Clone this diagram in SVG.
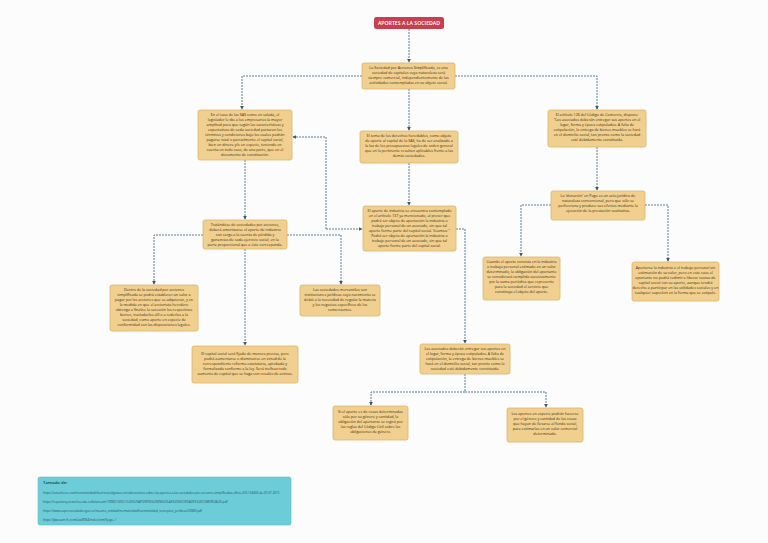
<svg xmlns="http://www.w3.org/2000/svg" width="768" height="543" viewBox="0 0 768 543">
<defs>
<marker id="ar" viewBox="0 0 6 6" refX="5" refY="3" markerWidth="4" markerHeight="4" orient="auto"><path d="M0,0 L6,3 L0,6 z" fill="#3d5a6c"/></marker>
<style>
.b{fill:#f1cf8e;stroke:#dcb56c;stroke-width:0.8}
.t{font-family:"Open Sans","DejaVu Sans",sans-serif;font-size:3.7px;fill:#3a2d10;text-anchor:middle}
.c{fill:none;stroke:#5f7f92;stroke-width:1;stroke-dasharray:2,1;marker-end:url(#ar)}
.u{font-family:"Open Sans","DejaVu Sans",sans-serif;font-size:3px;fill:#1f4d66}
</style>
</defs>
<rect width="768" height="543" fill="#fcfcfc"/>
<g id="connectors">
<path class="c" d="M409,29 V62"/>
<path class="c" d="M362,76 H242 V109"/>
<path class="c" d="M455,76 H597 V109"/>
<path class="c" d="M409,89 V130"/>
<path class="c" d="M409,163 V205"/>
<path class="c" d="M245,160 V219"/>
<path class="c" d="M203,235 H154 V284"/>
<path class="c" d="M287,235 H341 V284"/>
<path class="c" d="M245,249 V345"/>
<path class="c" d="M326,229 V137 H293"/>
<path class="c" d="M326,229 H362"/>
<path class="c" d="M456,229 H465 V343"/>
<path class="c" d="M465,374 V392 H371 V405"/>
<path class="c" d="M465,392 H546 V407"/>
<path class="c" d="M597,147 V190"/>
<path class="c" d="M551,205 H521 V256"/>
<path class="c" d="M645,205 H668 V261"/>
</g>
<g id="title"><rect x="374" y="17" width="70" height="12" rx="2.5" fill="#c8404f"/><text x="409" y="25" style="font-family:'Open Sans',sans-serif;font-size:5.2px;fill:#fff;text-anchor:middle;font-weight:600">APORTES A LA SOCIEDAD</text></g>
<g id="root"><rect class="b" x="362" y="63" width="93" height="26" rx="2"/><text class="t"><tspan x="408.5" y="69">La Sociedad por Acciones Simplificada, es una</tspan><tspan x="408.5" y="74">sociedad de capitales cuya naturaleza será</tspan><tspan x="408.5" y="79">siempre comercial, independientemente de las</tspan><tspan x="408.5" y="84">actividades contempladas en su objeto social.</tspan></text></g>
<g id="nA"><rect class="b" x="198" y="110" width="94" height="50" rx="2"/><text class="t"><tspan x="245" y="116">En el caso de las SAS como en saluda, el</tspan><tspan x="245" y="121">legislador le dio a los empresarios la mayor</tspan><tspan x="245" y="126">amplitud para que según las características y</tspan><tspan x="245" y="131">expectativas de cada sociedad pactaran los</tspan><tspan x="245" y="136">términos y condiciones bajo los cuales podrán</tspan><tspan x="245" y="141">pagarse total o parcialmente el capital social,</tspan><tspan x="245" y="146">bien en dinero y/o en especie, teniendo en</tspan><tspan x="245" y="151">cuenta en todo caso, de una parte, que en el</tspan><tspan x="245" y="156">documento de constitución.</tspan></text></g>
<g id="nB"><rect class="b" x="360" y="131" width="98" height="32" rx="2"/><text class="t"><tspan x="409" y="137">El tema de los derechos heredables, como objeto</tspan><tspan x="409" y="142">de aporte al capital de la SAS, ha de ser analizado a</tspan><tspan x="409" y="147">la luz de los presupuestos legales de orden general</tspan><tspan x="409" y="152">que en lo pertinente resulten aplicables frente a las</tspan><tspan x="409" y="157">demás sociedades.</tspan></text></g>
<g id="nC"><rect class="b" x="548" y="110" width="98" height="37" rx="2"/><text class="t"><tspan x="597" y="116">El artículo 126 del Código de Comercio, dispone:</tspan><tspan x="597" y="121">"Los asociados deberán entregar sus aportes en el</tspan><tspan x="597" y="126">lugar, forma y época estipulados. A falta de</tspan><tspan x="597" y="131">estipulación, la entrega de bienes muebles se hará</tspan><tspan x="597" y="136">en el domicilio social, tan pronto como la sociedad</tspan><tspan x="597" y="141">esté debidamente constituida.</tspan></text></g>
<g id="nL"><rect class="b" x="551" y="191" width="94" height="29" rx="2"/><text class="t"><tspan x="598" y="197">La 'donación' en Pago es un acto jurídico de</tspan><tspan x="598" y="202">naturaleza convencional, pero que sólo se</tspan><tspan x="598" y="207">perfecciona y produce sus efectos mediante la</tspan><tspan x="598" y="212">ejecución de la prestación sustitutiva.</tspan></text></g>
<g id="nD"><rect class="b" x="363" y="206" width="93" height="45" rx="2"/><text class="t"><tspan x="409.5" y="212">El aporte de industria se encuentra contemplado</tspan><tspan x="409.5" y="217">en el artículo 137 ya mencionado, al prever que</tspan><tspan x="409.5" y="222">podrá ser objeto de aportación la industria o</tspan><tspan x="409.5" y="227">trabajo personal de un asociado, sin que tal</tspan><tspan x="409.5" y="232">aporte forme parte del capital social. Veamos: "</tspan><tspan x="409.5" y="237">Podrá ser objeto de aportación la industria o</tspan><tspan x="409.5" y="242">trabajo personal de un asociado, sin que tal</tspan><tspan x="409.5" y="247">aporte forme parte del capital social.</tspan></text></g>
<g id="nF"><rect class="b" x="203" y="220" width="84" height="29" rx="2"/><text class="t"><tspan x="245" y="226">Tratándose de sociedades por acciones,</tspan><tspan x="245" y="231">deberá amortizarse el aporte de industria</tspan><tspan x="245" y="236">con cargo a la cuenta de pérdida y</tspan><tspan x="245" y="241">ganancias de cada ejercicio social, en la</tspan><tspan x="245" y="246">parte proporcional que a éste corresponda.</tspan></text></g>
<g id="nM"><rect class="b" x="483" y="257" width="77" height="43" rx="2"/><text class="t"><tspan x="521.5" y="263">Cuando el aporte consista en la industria</tspan><tspan x="521.5" y="268">o trabajo personal estimado en un valor</tspan><tspan x="521.5" y="273">determinado, la obligación del aportante</tspan><tspan x="521.5" y="278">se considerará cumplida sucesivamente</tspan><tspan x="521.5" y="283">por la suma periódica que represente</tspan><tspan x="521.5" y="288">para la sociedad el servicio que</tspan><tspan x="521.5" y="293">constituya el objeto del aporte.</tspan></text></g>
<g id="nN"><rect class="b" x="632" y="262" width="87" height="39" rx="2"/><text class="t"><tspan x="675.5" y="269">Aportarse la industria o el trabajo personal sin</tspan><tspan x="675.5" y="274">estimación de su valor, pero en este caso el</tspan><tspan x="675.5" y="279">aportante no podrá redimir o liberar cuotas de</tspan><tspan x="675.5" y="284">capital social con su aporte, aunque tendrá</tspan><tspan x="675.5" y="289">derecho a participar en las utilidades sociales y en</tspan><tspan x="675.5" y="294">cualquier superávit en la forma que se estipule.</tspan></text></g>
<g id="nG"><rect class="b" x="110" y="285" width="88" height="46" rx="2"/><text class="t"><tspan x="154" y="291">Dentro de la sociedad por acciones</tspan><tspan x="154" y="296">simplificada se podrá establecer un valor a</tspan><tspan x="154" y="301">pagar por las acciones que se adquieran, y en</tspan><tspan x="154" y="306">la medida en que el accionista heredero</tspan><tspan x="154" y="311">obtenga o finalice la sucesión los respectivos</tspan><tspan x="154" y="316">bienes, trasladarlos allí o a cederlos a la</tspan><tspan x="154" y="321">sociedad, como aporte en especie de</tspan><tspan x="154" y="326">conformidad con las disposiciones legales.</tspan></text></g>
<g id="nH"><rect class="b" x="300" y="285" width="80" height="31" rx="2"/><text class="t"><tspan x="340" y="291">Las sociedades mercantiles son</tspan><tspan x="340" y="296">instituciones jurídicas cuyo nacimiento se</tspan><tspan x="340" y="301">debió a la necesidad de regular la materia</tspan><tspan x="340" y="306">y los negocios específicos de los</tspan><tspan x="340" y="311">comerciantes.</tspan></text></g>
<g id="nI"><rect class="b" x="192" y="346" width="106" height="37" rx="2"/><text class="t"><tspan x="245" y="355">El capital social será fijado de manera precisa, pero</tspan><tspan x="245" y="360">podrá aumentarse o disminuirse en virtud de la</tspan><tspan x="245" y="365">correspondiente reforma estatutaria, aprobada y</tspan><tspan x="245" y="370">formalizada conforme a la ley. Será ineficaz todo</tspan><tspan x="245" y="375">aumento de capital que se haga con revalúo de activos.</tspan></text></g>
<g id="nE"><rect class="b" x="420" y="344" width="90" height="30" rx="2"/><text class="t"><tspan x="465" y="350">Los asociados deberán entregar sus aportes en</tspan><tspan x="465" y="355">el lugar, forma y época estipulados. A falta de</tspan><tspan x="465" y="360">estipulación, la entrega de bienes muebles se</tspan><tspan x="465" y="365">hará en el domicilio social, tan pronto como la</tspan><tspan x="465" y="370">sociedad esté debidamente constituida.</tspan></text></g>
<g id="nJ"><rect class="b" x="333" y="406" width="75" height="34" rx="2"/><text class="t"><tspan x="370.5" y="413">Si el aporte es de cosas determinadas</tspan><tspan x="370.5" y="418">sólo por su género y cantidad, la</tspan><tspan x="370.5" y="423">obligación del aportante se regirá por</tspan><tspan x="370.5" y="428">las reglas del Código Civil sobre las</tspan><tspan x="370.5" y="433">obligaciones de género.</tspan></text></g>
<g id="nK"><rect class="b" x="507" y="408" width="76" height="34" rx="2"/><text class="t"><tspan x="545" y="415">Los aportes en especie podrán hacerse</tspan><tspan x="545" y="420">por el género y cantidad de las cosas</tspan><tspan x="545" y="425">que hayan de llevarse al fondo social,</tspan><tspan x="545" y="430">para estimarlas en un valor comercial</tspan><tspan x="545" y="435">determinado.</tspan></text></g>
<g id="sources"><rect x="38" y="477" width="253" height="48" rx="2" fill="#6ccdd8" stroke="#5bbcc8" stroke-width="0.6"/>
<text x="43" y="484" style="font-family:'Open Sans',sans-serif;font-size:4.3px;font-weight:600;fill:#16394a">Tomado de:</text>
<text class="u" x="43" y="494">https://actualicese.com/normatividad/doctrinas/algunas-consideraciones-sobre-los-aportes-a-las-sociedades-por-acciones-simplificadas-oficio-220-154405-de-20-07-2015</text>
<text class="u" x="43" y="503">https://repository.ucatolica.edu.co/bitstream/10983/1435/1/LOS%20APORTES%20EN%20LAS%20SOCIEDADES%20COMERCIALES.pdf</text>
<text class="u" x="43" y="512">https://www.supersociedades.gov.co/nuestra_entidad/normatividad/normatividad_conceptos_juridicos/20883.pdf</text>
<text class="u" x="43" y="521">https://jbpusam.fc.com/law/8964/index.html?page=1</text>
</g>
</svg>
